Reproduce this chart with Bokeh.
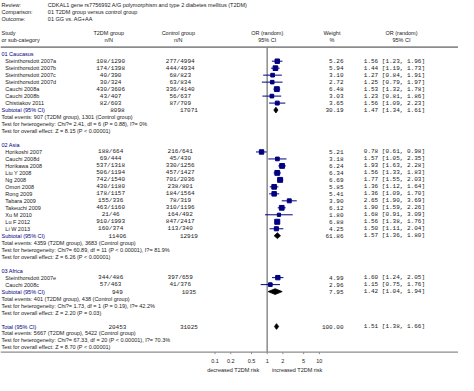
from bokeh.plotting import figure
from bokeh.models import Range1d, LogScale
from bokeh.core.properties import value
from bokeh.embed import file_html
from bokeh.resources import INLINE

# ---------------- data ----------------
review = "CDKAL1 gene rs7756992 A/G polymorphism and type 2 diabetes mellitus (T2DM)"
comparison = "01 T2DM group versus control group"
outcome = "01 GG vs. AG+AA"

groups = ["01 Caucasus", "02 Asia", "03 Africa"]

cau_study = ["Steinthorsdott 2007a", "Steinthorsdott 2007b", "Steinthorsdott 2007c",
             "Steinthorsdott 2007d", "Cauchi 2008a", "Cauchi 2008b", "Chistiakov 2011"]
cau_t2dm = ["108/1290", "174/1398", "40/390", "30/324", "430/3606", "43/407", "82/603"]
cau_ctrl = ["277/4994", "444/4934", "68/823", "63/834", "336/4140", "56/637", "87/709"]
cau_weight = [5.26, 5.94, 3.10, 2.72, 6.48, 3.03, 3.65]
cau_or = [1.56, 1.44, 1.27, 1.25, 1.53, 1.23, 1.56]
cau_lo = [1.23, 1.19, 0.84, 0.79, 1.32, 0.81, 1.09]
cau_hi = [1.96, 1.73, 1.91, 1.97, 1.78, 1.86, 2.23]

asia_study = ["Horikoshi 2007", "Cauchi 2008d", "Horikawa 2008", "Liu Y 2008", "Ng 2008",
              "Omori 2008", "Rong 2009", "Tabara 2009", "Takeuchi 2009", "Xu M 2010",
              "Lu F 2012", "Li W 2013"]
asia_t2dm = ["188/664", "69/444", "537/1318", "506/1194", "742/1540", "430/1180",
             "178/1157", "155/336", "463/1160", "21/46", "910/1993", "160/374"]
asia_ctrl = ["216/641", "45/430", "330/1256", "457/1427", "701/2036", "238/801",
             "184/1564", "78/319", "310/1196", "164/492", "847/2417", "113/340"]
asia_weight = [5.21, 3.18, 6.24, 6.34, 6.69, 5.85, 5.41, 3.90, 6.12, 1.80, 6.88, 4.25]
asia_or = [0.78, 1.57, 1.93, 1.56, 1.77, 1.36, 1.36, 2.65, 1.90, 1.68, 1.56, 1.50]
asia_lo = [0.61, 1.05, 1.63, 1.33, 1.55, 1.12, 1.09, 1.90, 1.59, 0.91, 1.38, 1.11]
asia_hi = [0.98, 2.35, 2.28, 1.83, 2.03, 1.64, 1.70, 3.69, 2.26, 3.09, 1.76, 2.04]

afr_study = ["Steinthorsdott 2007e", "Cauchi 2008c"]
afr_t2dm = ["344/486", "57/463"]
afr_ctrl = ["397/659", "41/376"]
afr_weight = [4.99, 2.96]
afr_or = [1.60, 1.15]
afr_lo = [1.24, 0.75]
afr_hi = [2.05, 1.76]

sub_t2dm = ["8098", "11406", "949"]
sub_ctrl = ["17071", "12919", "1035"]
sub_weight = [30.19, 61.86, 7.95]
sub_or = [1.47, 1.57, 1.42]
sub_lo = [1.34, 1.36, 1.04]
sub_hi = [1.61, 1.80, 1.94]
sub_events = ["907 (T2DM group), 1301 (Control group)",
              "4359 (T2DM group), 3683 (Control group)",
              "401 (T2DM group), 438 (Control group)"]
sub_het = ["Chi?= 2.41, df = 6 (P = 0.88), I?= 0%",
           "Chi?= 60.89, df = 11 (P < 0.00001), I?= 81.9%",
           "Chi?= 1.73, df = 1 (P = 0.19), I?= 42.2%"]
sub_z = ["Z = 8.15 (P < 0.00001)", "Z = 6.26 (P < 0.00001)", "Z = 2.20 (P = 0.03)"]

total_t2dm = "20453"
total_ctrl = "31025"
total_weight = 100.00
total_or = 1.51
total_lo = 1.38
total_hi = 1.66
total_events = "5667 (T2DM group), 5422 (Control group)"
total_het = "Chi?= 67.33, df = 20 (P < 0.00001), I?= 70.3%"
total_z = "Z = 8.70 (P < 0.00001)"

tick_values = [0.1, 0.2, 0.5, 1, 2, 5, 10]
tick_labels = ["0.1", "0.2", "0.5", "1", "2", "5", "10"]

# ---------------- layout ----------------
W, H = 474, 391
X_ONE, DECADE = 276.0, 54.0
Y0, PITCH = 56.0, 7.28

SANS = value("Liberation Sans")
MONO = value("Liberation Mono")
FS = value("5.5px")
FM = value("6px")
NAVY = "#000080"
TXT = "#1a1a1a"
GRAY = "#8c8c8c"

p = figure(width=458, height=375, x_range=Range1d(0, W), y_range=Range1d(H, 0),
           x_axis_type=None, y_axis_type=None, output_backend="svg",
           toolbar_location=None, min_border=0)
p.grid.visible = False
p.outline_line_color = None
p.extra_x_ranges = {"or": Range1d(10 ** ((0 - X_ONE) / DECADE), 10 ** ((W - X_ONE) / DECADE))}
p.extra_x_scales = {"or": LogScale()}

sans = {"x": [], "y": [], "t": [], "a": [], "c": []}
mono = {"x": [], "y": [], "t": [], "a": []}
sq = {"x": [], "y": [], "s": []}
wh = {"x0": [], "x1": [], "y": []}
dia_xs, dia_ys = [], []


def add_sans(x, y, t, a="left", c=TXT):
    sans["x"].append(x); sans["y"].append(y); sans["t"].append(t)
    sans["a"].append(a); sans["c"].append(c)


def add_mono(x, y, t, a="center"):
    mono["x"].append(x); mono["y"].append(y); mono["t"].append(t); mono["a"].append(a)


def row_y(k):
    return Y0 + PITCH * k


# header
for i, (lab, val) in enumerate([("Review:", review), ("Comparison:", comparison), ("Outcome:", outcome)]):
    add_sans(1, 4.6 + 7.3 * i, lab)
    add_sans(49, 4.6 + 7.3 * i, val)
hy1, hy2 = 33.6, 40.9
add_sans(1, hy1, "Study"); add_sans(1, hy2, "or sub-category")
add_sans(112, hy1, "T2DM group", "center"); add_sans(112, hy2, "n/N", "center")
add_sans(184, hy1, "Control group", "center"); add_sans(184, hy2, "n/N", "center")
add_sans(276, hy1, "OR (random)", "center"); add_sans(276, hy2, "95% CI", "center")
add_sans(343, hy1, "Weight", "center"); add_sans(343, hy2, "%", "center")
add_sans(415, hy1, "OR (random)", "center"); add_sans(415, hy2, "95% CI", "center")

studies = [(cau_study, cau_t2dm, cau_ctrl, cau_weight, cau_or, cau_lo, cau_hi),
           (asia_study, asia_t2dm, asia_ctrl, asia_weight, asia_or, asia_lo, asia_hi),
           (afr_study, afr_t2dm, afr_ctrl, afr_weight, afr_or, afr_lo, afr_hi)]


def add_diamond(y, o, lo, hi):
    dia_xs.append([lo, o, hi, o])
    dia_ys.append([y, y - 3.0, y, y + 3.0])


k = 0
for g in range(3):
    add_sans(1, row_y(k), groups[g], c=NAVY)
    k += 1
    names, t2, ct, wt, orr, lo, hi = studies[g]
    for i in range(len(names)):
        y = row_y(k)
        add_sans(5, y, names[i])
        add_mono(114, y, t2[i])
        add_mono(186, y, ct[i])
        add_mono(355, y, f"{wt[i]:.2f}", "right")
        add_mono(376, y, f"{orr[i]:.2f} [{lo[i]:.2f}, {hi[i]:.2f}]", "left")
        sq["x"].append(orr[i]); sq["y"].append(y); sq["s"].append(2.6 + 0.35 * wt[i])
        wh["x0"].append(lo[i]); wh["x1"].append(hi[i]); wh["y"].append(y)
        k += 1
    y = row_y(k)
    add_sans(1, y, "Subtotal (95% CI)", c=NAVY)
    add_mono(121, y, sub_t2dm[g])
    add_mono(195, y, sub_ctrl[g])
    add_mono(355, y, f"{sub_weight[g]:.2f}", "right")
    add_mono(376, y, f"{sub_or[g]:.2f} [{sub_lo[g]:.2f}, {sub_hi[g]:.2f}]", "left")
    add_diamond(y, sub_or[g], sub_lo[g], sub_hi[g])
    k += 1
    add_sans(1, row_y(k), "Total events: " + sub_events[g]); k += 1
    add_sans(1, row_y(k), "Test for heterogeneity: " + sub_het[g]); k += 1
    add_sans(1, row_y(k), "Test for overall effect: " + sub_z[g]); k += 1
    k += 1

y = row_y(k)
add_sans(1, y, "Total (95% CI)", c=NAVY)
add_mono(121, y, total_t2dm)
add_mono(195, y, total_ctrl)
add_mono(355, y, f"{total_weight:.2f}", "right")
add_mono(376, y, f"{total_or:.2f} [{total_lo:.2f}, {total_hi:.2f}]", "left")
add_diamond(y, total_or, total_lo, total_hi)
k += 1
add_sans(1, row_y(k), "Total events: " + total_events); k += 1
add_sans(1, row_y(k), "Test for heterogeneity: " + total_het); k += 1
add_sans(1, row_y(k), "Test for overall effect: " + total_z); k += 1

axis_y = row_y(k - 1) + 4.8
head_line_y = 48.6

# lines
p.segment(x0=[0], x1=[W], y0=[head_line_y], y1=[head_line_y], line_color=GRAY, line_width=1.6)
p.segment(x0=[0], x1=[W], y0=[axis_y], y1=[axis_y], line_color=GRAY, line_width=1.2)
p.segment(x0=[1], x1=[1], y0=[head_line_y], y1=[axis_y], line_color=GRAY, line_width=1.5,
          x_range_name="or")
p.segment(x0=tick_values, x1=tick_values, y0=[axis_y] * len(tick_values),
          y1=[axis_y + 2.2] * len(tick_values), line_color=GRAY, line_width=1,
          x_range_name="or")

# study markers
p.segment(x0="x0", x1="x1", y0="y", y1="y", source=wh, line_color=NAVY, line_width=1,
          x_range_name="or")
p.scatter(x="x", y="y", size="s", source=sq, marker="square", fill_color=NAVY,
          line_color=NAVY, x_range_name="or")
p.patches(xs=dia_xs, ys=dia_ys, fill_color="black", line_color="black", line_width=0.8,
          x_range_name="or")

# texts
p.text(x="x", y="y", text="t", source=sans, text_align="a", text_color="c",
       text_baseline="middle", text_font=SANS, text_font_size=FS)
p.text(x="x", y="y", text="t", source=mono, text_align="a", text_color=TXT,
       text_baseline="middle", text_font=MONO, text_font_size=FM)

# axis tick labels and captions
p.text(x=tick_values, y=[axis_y + 9.5] * len(tick_values), text=tick_labels,
       text_align="center", text_baseline="middle", text_color=TXT,
       text_font=SANS, text_font_size=FS, x_range_name="or")
p.text(x=[268], y=[axis_y + 19], text=["decreased T2DM risk"], text_align="right",
       text_baseline="middle", text_color=TXT, text_font=SANS, text_font_size=FS)
p.text(x=[281], y=[axis_y + 19], text=["increased T2DM risk"], text_align="left",
       text_baseline="middle", text_color=TXT, text_font=SANS, text_font_size=FS)

open("out.html", "w").write(file_html(p, INLINE))
